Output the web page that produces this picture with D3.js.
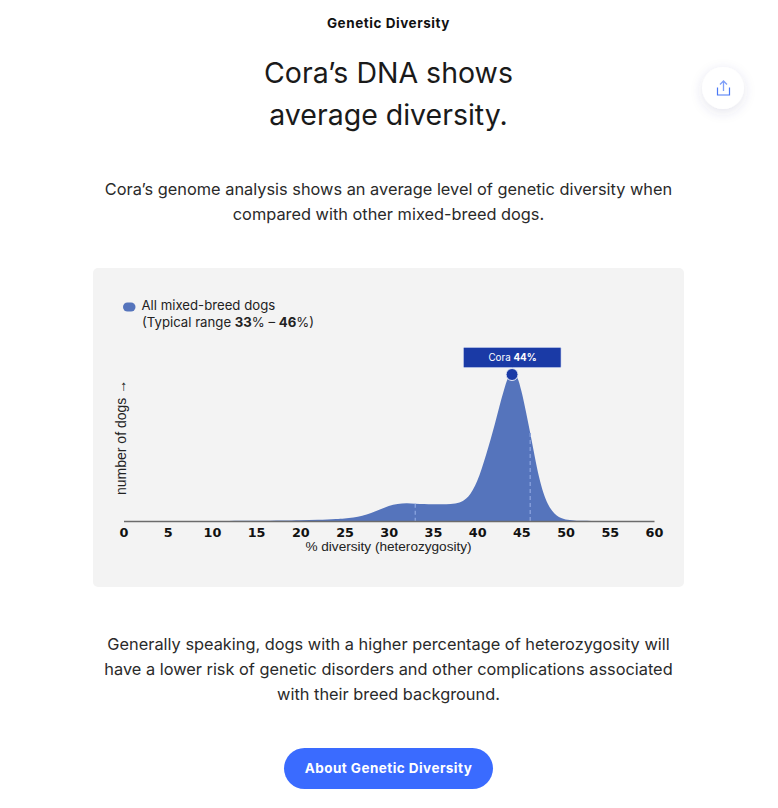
<!DOCTYPE html>
<html><head><meta charset="utf-8">
<script src="https://cdn.jsdelivr.net/npm/d3@7"></script>
<style>html,body{margin:0;padding:0;background:#fff}svg{display:block}text{font-family:Inter,"Noto Sans",sans-serif}</style>
</head><body><div id="c"></div>
<script>
const pct=[0,5,10,15,18,20,22,24,25,26,27,28,29,30,31,32,33,34,35,36,37,38,38.5,39,39.5,40,40.5,41,41.5,42,42.5,43,43.5,44,44.5,45,45.5,46,46.5,47,47.5,48,48.5,49,49.5,50,51,52,54,60];
const dogs=[0,0,0,.2,.5,.8,1.2,2,2.6,3.6,5.3,8,11.5,15,17,17.7,17.3,17,16.7,16.7,17,18.5,20.8,24.5,31,40,52,66,81,97,114,130,143,149,144,130,110,88,65,44,28,17,10,5.5,3,1.5,.5,.2,0,0];
const tickValues=d3.range(0,61,5);
const typicalRange=[33,46];
const coraValue=44;
const titleLines=["Cora’s DNA shows","average diversity."];
const introLines=["Cora’s genome analysis shows an average level of genetic diversity when","compared with other mixed-breed dogs."];
const outroLines=["Generally speaking, dogs with a higher percentage of heterozygosity will","have a lower risk of genetic disorders and other complications associated","with their breed background."];

const svg=d3.select("#c").append("svg").attr("width",778).attr("height",808);
const defs=svg.append("defs");
const f=defs.append("filter").attr("id","sh").attr("x","-50%").attr("y","-50%").attr("width","200%").attr("height","200%");
f.append("feDropShadow").attr("dx",0).attr("dy",3).attr("stdDeviation",6).attr("flood-color","#3a4a80").attr("flood-opacity",.14);

const ctext=(x,y,t,size,weight,fill,ls)=>svg.append("text").attr("x",x).attr("y",y).attr("text-anchor","middle").attr("font-size",size).attr("font-weight",weight).attr("fill",fill).attr("letter-spacing",ls||0).text(t);
ctext(388.5,28,"Genetic Diversity",13.5,700,"#111",.55);
titleLines.forEach((t,i)=>ctext(388.5,83+i*42,t,28.5,400,"#1a1a1a"));
introLines.forEach((t,i)=>ctext(388.5,195+i*25,t,16.35,400,"#2a2a2a"));
outroLines.forEach((t,i)=>ctext(388.5,650+i*25,t,16.35,400,"#2a2a2a"));

// share button
const share=svg.append("g");
share.append("circle").attr("cx",723).attr("cy",88).attr("r",21).attr("fill","#fff").attr("filter","url(#sh)");
share.append("path").attr("d","M717.5,87.5V95H729.5V87.5").attr("fill","none").attr("stroke","#4a78f5").attr("stroke-width",1.2);
share.append("path").attr("d","M723.5,91V81.5M720,84.5L723.5,81L727,84.5").attr("fill","none").attr("stroke","#7f9ff8").attr("stroke-width",1.3);

// panel
svg.append("rect").attr("x",93).attr("y",268).attr("width",591).attr("height",319).attr("rx",5).attr("fill","#f3f3f3");

const x=d3.scaleLinear().domain([0,60]).range([123.5,654]);
const y=d3.scaleLinear().domain([0,150]).range([521,371]);
const pts=pct.map((p,i)=>[p,dogs[i]]);
svg.append("path").datum(pts).attr("fill","#5574bc")
  .attr("d",d3.area().x(d=>x(d[0])).y0(y(0)).y1(d=>y(d[1])).curve(d3.curveCatmullRom.alpha(.5)));

// typical range dashes
typicalRange.forEach(p=>{
  const v=dogs[pct.indexOf(p)];
  svg.append("line").attr("x1",x(p)).attr("x2",x(p)).attr("y1",y(v)).attr("y2",y(0))
    .attr("stroke","#86a0dc").attr("stroke-width",1.4).attr("stroke-dasharray","4 3");
});

// axis
const ax=svg.append("g").attr("transform",`translate(0,${y(0)})`).call(d3.axisBottom(x).tickValues(tickValues).tickSize(0).tickPadding(6.5).tickFormat(d3.format("d")));
ax.select(".domain").attr("stroke","#6b6b6b").attr("stroke-width",1.3);
ax.selectAll("text").attr("font-size",12.8).attr("font-weight",700).attr("fill","#111").style("font-family","'DejaVu Sans'");

svg.append("text").attr("x",388.5).attr("y",551).attr("text-anchor","middle").attr("font-size",13.6).attr("fill","#222").style("font-family","'Liberation Sans'").text("% diversity (heterozygosity)");
svg.append("text").attr("transform","translate(126,495) rotate(-90)").attr("font-size",14).attr("fill","#222").style("font-family","'Liberation Sans'").text("number of dogs →");

// legend
svg.append("rect").attr("x",123).attr("y",302.5).attr("width",12.5).attr("height",9).attr("rx",4.5).attr("fill","#5574bc");
svg.append("text").attr("x",141.5).attr("y",310).attr("font-size",13.2).attr("fill","#222").text("All mixed-breed dogs");
const l2=svg.append("text").attr("x",142).attr("y",327).attr("font-size",13.2).attr("fill","#222");
l2.append("tspan").text("(Typical range ");
l2.append("tspan").attr("font-weight",700).text(typicalRange[0]);
l2.append("tspan").text("% – ");
l2.append("tspan").attr("font-weight",700).text(typicalRange[1]);
l2.append("tspan").text("%)");

// marker
const cx=x(coraValue), cv=dogs[pct.indexOf(coraValue)];
svg.append("line").attr("x1",cx).attr("x2",cx).attr("y1",367).attr("y2",y(cv)).attr("stroke","#9fb2e0");
svg.append("rect").attr("x",463.5).attr("y",347.5).attr("width",97.5).attr("height",20).attr("rx",1).attr("fill","#1a3aa6").attr("stroke","#c3cfee").attr("stroke-width",.6);
svg.append("text").attr("x",cx).attr("y",361).attr("text-anchor","middle").attr("font-size",9.8).attr("fill","#fff").text("Cora ").append("tspan").attr("font-weight",700).text(coraValue+"%");
svg.append("circle").attr("cx",cx-.5).attr("cy",374.5).attr("r",6).attr("fill","#1a3aa6").attr("stroke","#e8ecf7").attr("stroke-width",1);

// button
svg.append("rect").attr("x",284).attr("y",748).attr("width",209).attr("height",41).attr("rx",20.5).attr("fill","#3a6bff");
ctext(388.5,773,"About Genetic Diversity",13.5,700,"#fff",.45);
</script></body></html>
